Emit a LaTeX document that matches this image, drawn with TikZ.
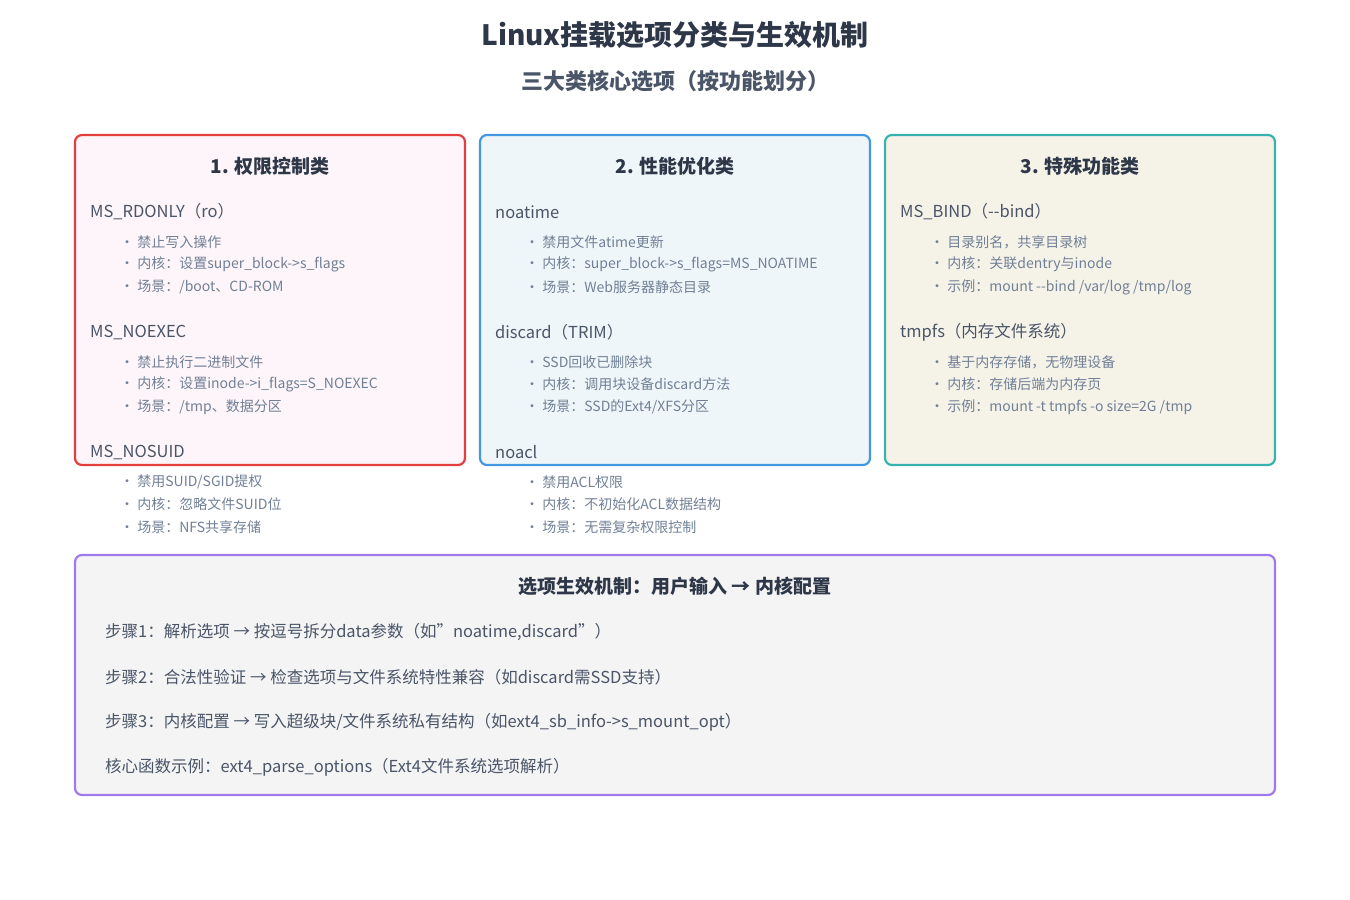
\documentclass[tikz,border=0pt]{standalone}
\usepackage{fontspec}
\setmainfont{Noto Sans CJK SC}
\definecolor{titlec}{HTML}{2D3748}
\definecolor{subc}{HTML}{4A5568}
\definecolor{bulc}{HTML}{718096}
\definecolor{redb}{HTML}{E53E3E}\definecolor{redf}{HTML}{FDF5F9}
\definecolor{blub}{HTML}{4299E1}\definecolor{bluf}{HTML}{EFF6FA}
\definecolor{teab}{HTML}{38B2AC}\definecolor{teaf}{HTML}{F5F2E8}
\definecolor{purb}{HTML}{9F7AEA}\definecolor{purf}{HTML}{F4F4F4}
\begin{document}
\begin{tikzpicture}[x=1pt,y=-1pt,
  panel/.style={draw, line width=2.2pt, rounded corners=7pt},
  head/.style={font=\fontsize{19}{22}\selectfont\bfseries, text=titlec},
  item/.style={anchor=west, inner sep=0pt, font=\fontsize{16.5}{20}\selectfont, text=subc},
  bul/.style={anchor=west, inner sep=0pt, font=\fontsize{14}{17}\selectfont, text=bulc}]
\useasboundingbox (0,0) rectangle (1350,900);
\node[font=\fontsize{28}{32}\selectfont\bfseries, text=titlec] (t) at (675,35) {Linux挂载选项分类与生效机制};
\node[font=\fontsize{22}{26}\selectfont\bfseries, text=subc] (st) at (675,81) {三大类核心选项（按功能划分）};
\node[panel, draw=redb, fill=redf, minimum width=390pt, minimum height=330pt] (b1) at (270,300) {};
\node[panel, draw=blub, fill=bluf, minimum width=390pt, minimum height=330pt] (b2) at (675,300) {};
\node[panel, draw=teab, fill=teaf, minimum width=390pt, minimum height=330pt] (b3) at (1080,300) {};
\node[panel, draw=purb, fill=purf, minimum width=1200pt, minimum height=240pt] (b4) at (675,675) {};
\node[head] (h1) at (270,166) {1. 权限控制类};
\node[head] (h2) at (675,166) {2. 性能优化类};
\node[head] (h3) at (1080,166) {3. 特殊功能类};
% box1
\node[item] (i11) at (90,212) {MS\_RDONLY（ro）};
\node[bul] (a1) at (120,242) {• 禁止写入操作};
\node[bul] (a2) at (120,264) {• 内核：设置super\_block->s\_flags};
\node[bul] (a3) at (120,287) {• 场景：/boot、CD-ROM};
\node[item] (i12) at (90,332) {MS\_NOEXEC};
\node[bul] (a4) at (120,362) {• 禁止执行二进制文件};
\node[bul] (a5) at (120,384) {• 内核：设置inode->i\_flags=S\_NOEXEC};
\node[bul] (a6) at (120,407) {• 场景：/tmp、数据分区};
\node[item] (i13) at (90,452) {MS\_NOSUID};
\node[bul] (a7) at (120,482) {• 禁用SUID/SGID提权};
\node[bul] (a8) at (120,504) {• 内核：忽略文件SUID位};
\node[bul] (a9) at (120,527) {• 场景：NFS共享存储};
% box2
\node[item] (i21) at (495,212) {noatime};
\node[bul] (c1) at (525,242) {• 禁用文件atime更新};
\node[bul] (c2) at (525,264) {• 内核：super\_block->s\_flags=MS\_NOATIME};
\node[bul] (c3) at (525,287) {• 场景：Web服务器静态目录};
\node[item] (i22) at (495,332) {discard（TRIM）};
\node[bul] (c4) at (525,362) {• SSD回收已删除块};
\node[bul] (c5) at (525,384) {• 内核：调用块设备discard方法};
\node[bul] (c6) at (525,407) {• 场景：SSD的Ext4/XFS分区};
\node[item] (i23) at (495,452) {noacl};
\node[bul] (c7) at (525,482) {• 禁用ACL权限};
\node[bul] (c8) at (525,504) {• 内核：不初始化ACL数据结构};
\node[bul] (c9) at (525,527) {• 场景：无需复杂权限控制};
% box3
\node[item] (i31) at (900,212) {MS\_BIND（-{}-bind）};
\node[bul] (d1) at (930,242) {• 目录别名，共享目录树};
\node[bul] (d2) at (930,264) {• 内核：关联dentry与inode};
\node[bul] (d3) at (930,287) {• 示例：mount -{}-bind /var/log /tmp/log};
\node[item] (i32) at (900,332) {tmpfs（内存文件系统）};
\node[bul] (d4) at (930,362) {• 基于内存存储，无物理设备};
\node[bul] (d5) at (930,384) {• 内核：存储后端为内存页};
\node[bul] (d6) at (930,407) {• 示例：mount -t tmpfs -o size=2G /tmp};
% bottom
\node[head] (h4) at (675,586) {选项生效机制：用户输入 → 内核配置};
\node[item] (s1) at (105,632) {步骤1：解析选项 → 按逗号拆分data参数（如\symbol{34}noatime,discard\symbol{34}）};
\node[item] (s2) at (105,677) {步骤2：合法性验证 → 检查选项与文件系统特性兼容（如discard需SSD支持）};
\node[item] (s3) at (105,722) {步骤3：内核配置 → 写入超级块/文件系统私有结构（如ext4\_sb\_info->s\_mount\_opt）};
\node[item] (s4) at (105,767) {核心函数示例：ext4\_parse\_options（Ext4文件系统选项解析）};
\end{tikzpicture}
\end{document}
